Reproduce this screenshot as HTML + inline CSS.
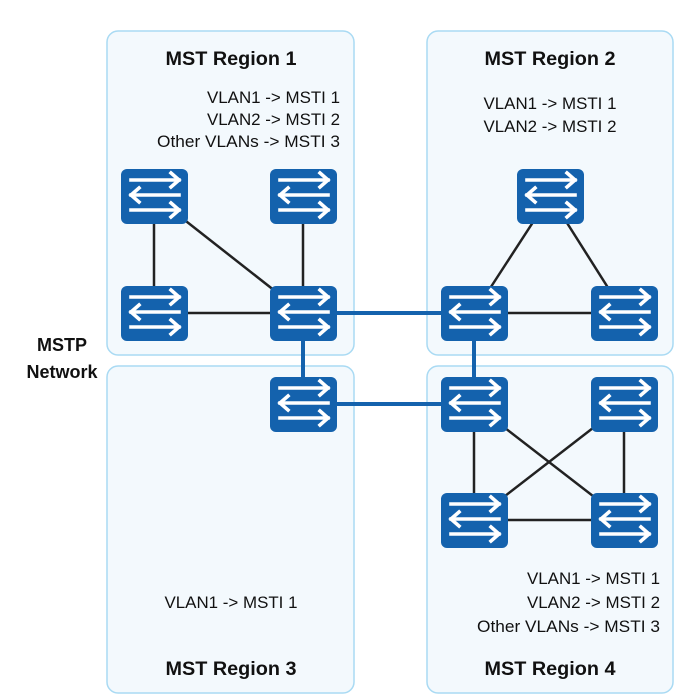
<!DOCTYPE html>
<html><head><meta charset="utf-8"><style>
body{margin:0;background:#fff}
svg{display:block}
text{font-family:"Liberation Sans",sans-serif;fill:#111}
</style></head><body>
<svg width="698" height="698" viewBox="0 0 698 698">
<defs>
<g id="sw">
<rect x="0" y="0" width="67" height="55" rx="6" fill="#1462ad"/>
<g stroke="#fff" stroke-width="3.6" fill="none" stroke-linecap="square">
<line x1="10" y1="11" x2="58" y2="11"/><polyline points="50,4 58,11 50,18"/>
<line x1="10" y1="26" x2="58" y2="26"/><polyline points="18,19 10,26 18,33"/>
<line x1="10" y1="41" x2="58" y2="41"/><polyline points="50,34 58,41 50,48"/>
</g>
</g>
</defs>
<g fill="#f3f9fd" stroke="#a9daf3" stroke-width="1.5">
<rect x="107" y="31" width="247" height="324" rx="11"/>
<rect x="427" y="31" width="246" height="324" rx="11"/>
<rect x="107" y="366" width="247" height="327" rx="11"/>
<rect x="427" y="366" width="246" height="327" rx="11"/>
</g>
<g stroke="#222" stroke-width="2.5">
<line x1="154" y1="196" x2="154" y2="313"/>
<line x1="154" y1="196" x2="303" y2="313"/>
<line x1="303" y1="196" x2="303" y2="313"/>
<line x1="154" y1="313" x2="303" y2="313"/>
<line x1="550" y1="196" x2="474" y2="313"/>
<line x1="550" y1="196" x2="624" y2="313"/>
<line x1="474" y1="313" x2="624" y2="313"/>
<line x1="474" y1="404" x2="474" y2="520"/>
<line x1="624" y1="404" x2="624" y2="520"/>
<line x1="474" y1="404" x2="624" y2="520"/>
<line x1="624" y1="404" x2="474" y2="520"/>
<line x1="474" y1="520" x2="624" y2="520"/>
</g>
<g stroke="#1462ad" stroke-width="4">
<line x1="303" y1="313" x2="474" y2="313"/>
<line x1="303" y1="313" x2="303" y2="404"/>
<line x1="303" y1="404" x2="474" y2="404"/>
<line x1="474" y1="313" x2="474" y2="404"/>
</g>
<use href="#sw" x="121" y="169"/>
<use href="#sw" x="270" y="169"/>
<use href="#sw" x="121" y="286"/>
<use href="#sw" x="270" y="286"/>
<use href="#sw" x="517" y="169"/>
<use href="#sw" x="441" y="286"/>
<use href="#sw" x="591" y="286"/>
<use href="#sw" x="270" y="377"/>
<use href="#sw" x="441" y="377"/>
<use href="#sw" x="591" y="377"/>
<use href="#sw" x="441" y="493"/>
<use href="#sw" x="591" y="493"/>
<g font-size="19" font-weight="bold" text-anchor="middle">
<text x="231" y="65" textLength="131" lengthAdjust="spacingAndGlyphs">MST Region 1</text>
<text x="550" y="65" textLength="131" lengthAdjust="spacingAndGlyphs">MST Region 2</text>
<text x="231" y="675" textLength="131" lengthAdjust="spacingAndGlyphs">MST Region 3</text>
<text x="550" y="675" textLength="131" lengthAdjust="spacingAndGlyphs">MST Region 4</text>
</g>
<g font-size="18" font-weight="bold" text-anchor="middle">
<text x="62" y="351">MSTP</text>
<text x="62" y="378">Network</text>
</g>
<g font-size="16.5" text-anchor="end">
<text x="340" y="103" textLength="133" lengthAdjust="spacingAndGlyphs">VLAN1 -&gt; MSTI 1</text>
<text x="340" y="125" textLength="133" lengthAdjust="spacingAndGlyphs">VLAN2 -&gt; MSTI 2</text>
<text x="340" y="147" textLength="183" lengthAdjust="spacingAndGlyphs">Other VLANs -&gt; MSTI 3</text>
<text x="660" y="584" textLength="133" lengthAdjust="spacingAndGlyphs">VLAN1 -&gt; MSTI 1</text>
<text x="660" y="608" textLength="133" lengthAdjust="spacingAndGlyphs">VLAN2 -&gt; MSTI 2</text>
<text x="660" y="632" textLength="183" lengthAdjust="spacingAndGlyphs">Other VLANs -&gt; MSTI 3</text>
</g>
<g font-size="16.5" text-anchor="middle">
<text x="550" y="109" textLength="133" lengthAdjust="spacingAndGlyphs">VLAN1 -&gt; MSTI 1</text>
<text x="550" y="132" textLength="133" lengthAdjust="spacingAndGlyphs">VLAN2 -&gt; MSTI 2</text>
<text x="231" y="608" textLength="133" lengthAdjust="spacingAndGlyphs">VLAN1 -&gt; MSTI 1</text>
</g>
</svg>
</body></html>
